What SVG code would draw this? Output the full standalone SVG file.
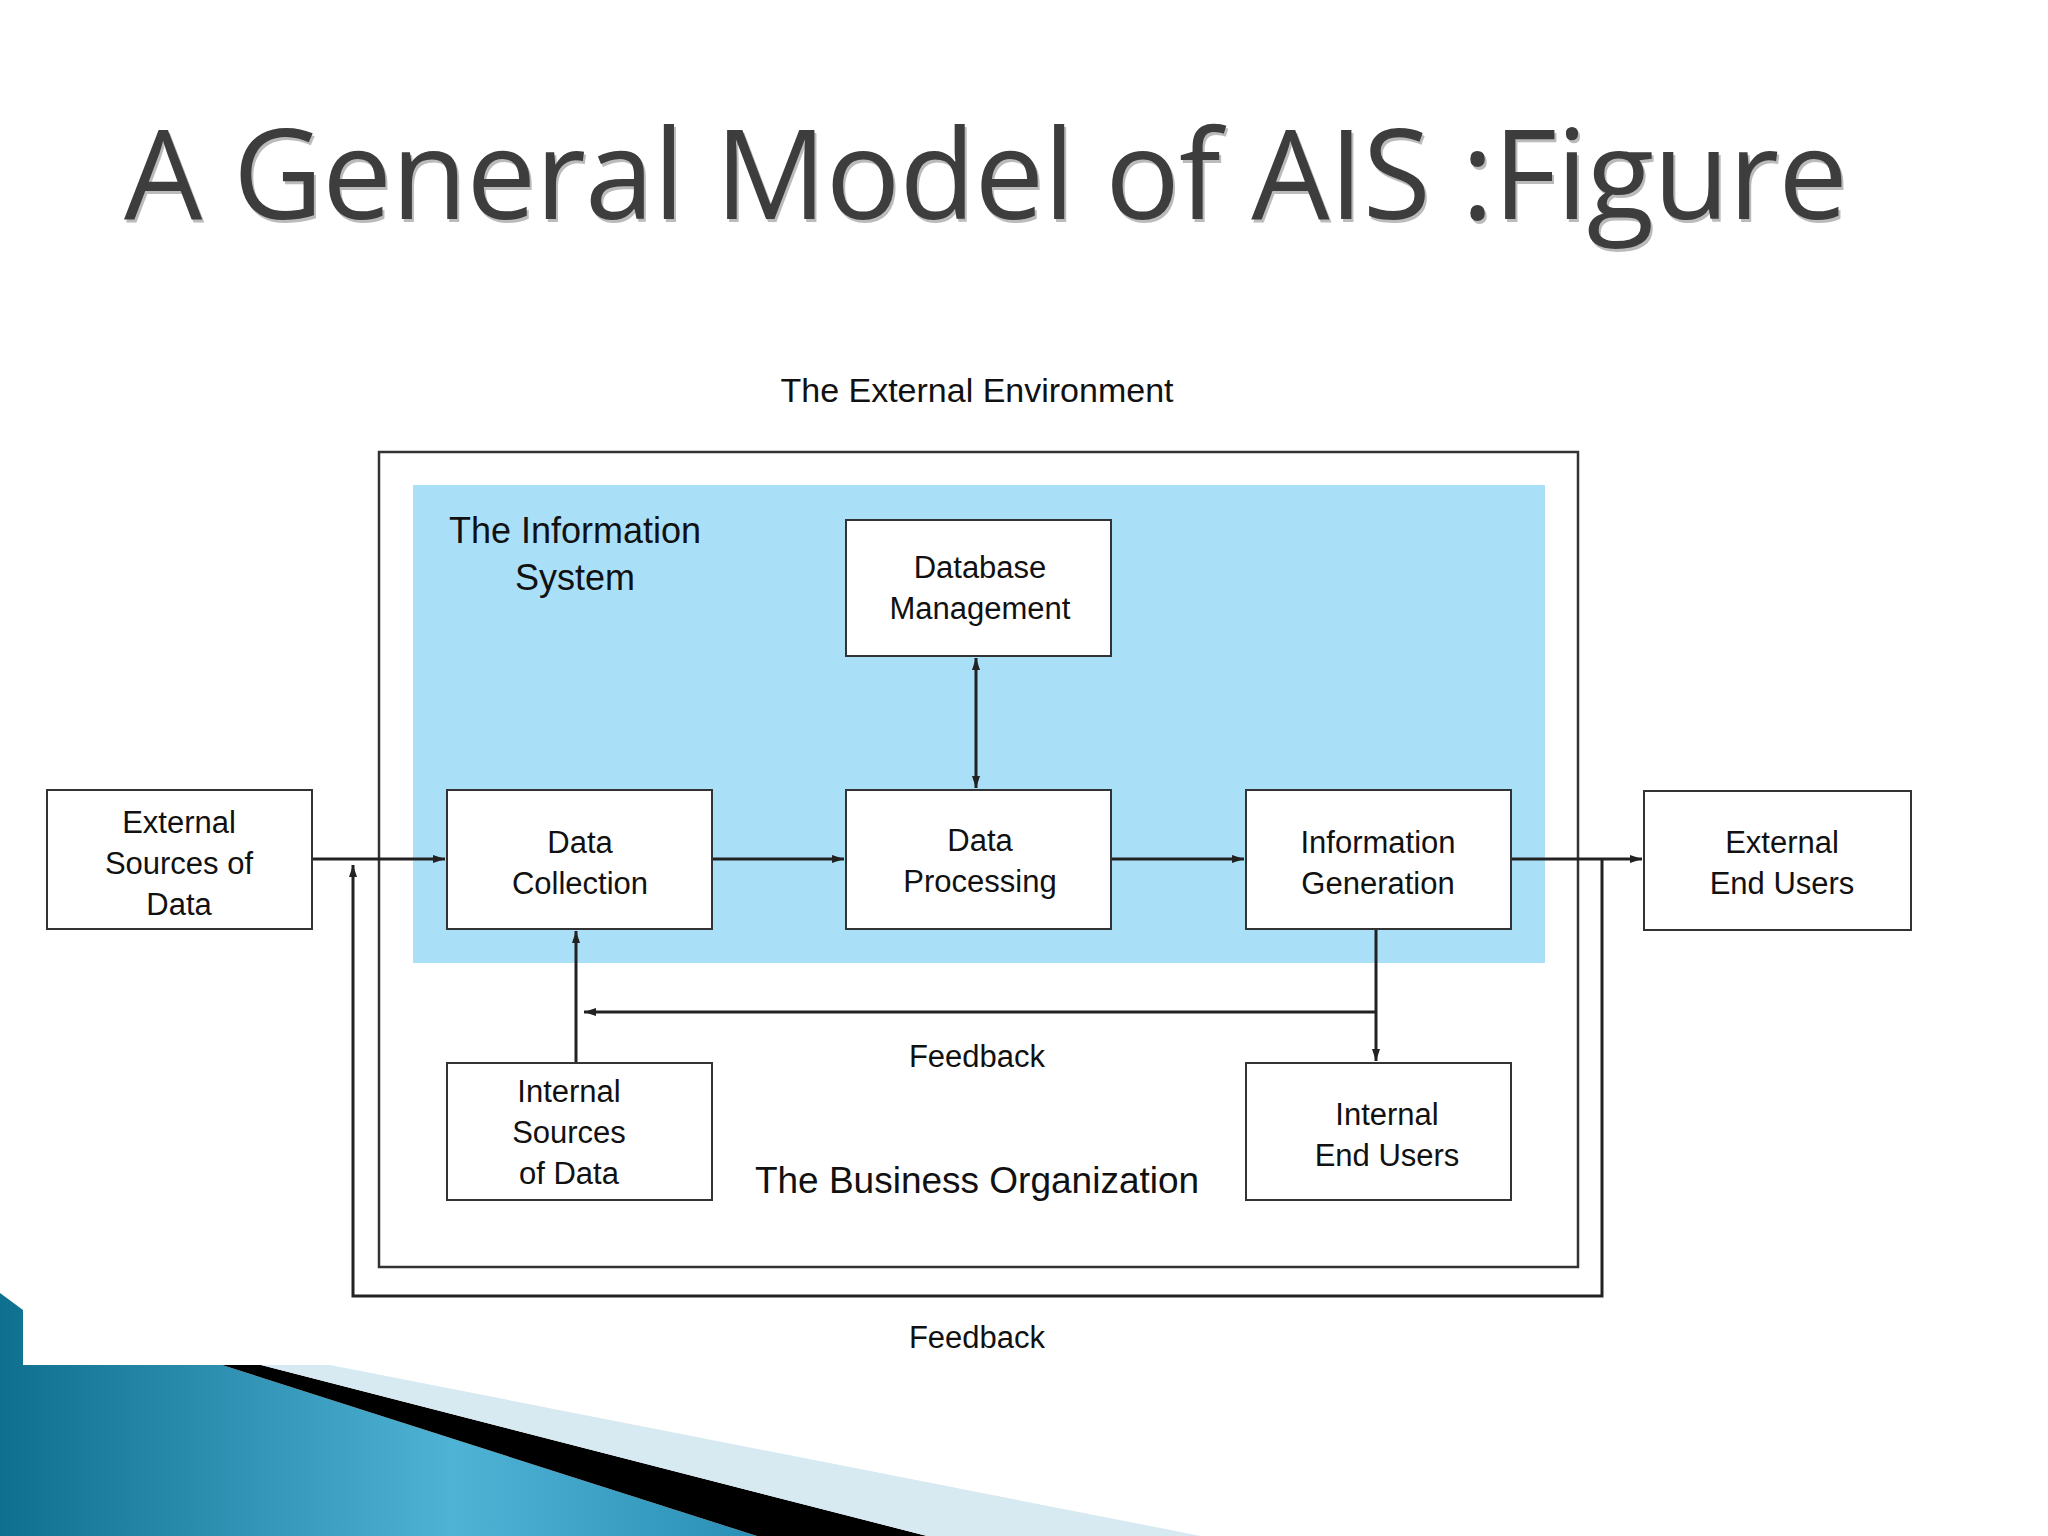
<svg xmlns="http://www.w3.org/2000/svg" width="2048" height="1536" viewBox="0 0 2048 1536">
<defs>
<marker id="ah" viewBox="0 0 12 8" refX="12" refY="4" markerWidth="12" markerHeight="8" markerUnits="userSpaceOnUse" orient="auto-start-reverse"><path d="M0,0 L12,4 L0,8 Z" fill="#222"/></marker>
<linearGradient id="tg" x1="0" y1="0" x2="1" y2="0"><stop offset="0" stop-color="#0f6f8f"/><stop offset="0.6" stop-color="#4fb3d6"/><stop offset="1" stop-color="#2a8fb5"/></linearGradient>
</defs>
<style>
.t{font-family:"Liberation Sans",Arial,sans-serif;fill:#111;text-anchor:middle}
.b{font-size:31px}
.box{fill:#fff;stroke:#333;stroke-width:2}
.ln{fill:none;stroke:#222;stroke-width:3}
</style>
<rect width="2048" height="1536" fill="#fff"/>
<g id="decor">
<polygon points="0,1293 23,1310 23,1365 222,1365 757,1536 0,1536" fill="url(#tg)"/>
<polygon points="222,1365 261,1365 927,1536 757,1536" fill="#000"/>
<polygon points="261,1365 330,1365 1201,1536 927,1536" fill="#d7e9f1"/>
</g>
<text x="126" y="222" font-family="'Open Sans','DejaVu Sans',sans-serif" font-size="124" fill="#bbb" textLength="1724">A General Model of AIS :Figure</text>
<text x="124" y="219" font-family="'Open Sans','DejaVu Sans',sans-serif" font-size="124" fill="#3d3d3d" textLength="1724">A General Model of AIS :Figure</text>
<text class="t" x="977" y="402" font-size="34">The External Environment</text>
<g id="org"><rect x="379" y="452" width="1199" height="815" fill="#fff" stroke="#333" stroke-width="2.5"/></g>
<g id="is"><rect x="413" y="485" width="1132" height="478" fill="#aadff8"/>
<text class="t" x="575" y="543" font-size="36">The Information</text><text class="t" x="575" y="590" font-size="36">System</text></g>
<text class="t" x="977" y="1193" font-size="37">The Business Organization</text>
<g id="connectors">
<line class="ln" x1="312" y1="859" x2="445" y2="859" marker-end="url(#ah)"/>
<line class="ln" x1="712" y1="859" x2="844" y2="859" marker-end="url(#ah)"/>
<line class="ln" x1="1111" y1="859" x2="1244" y2="859" marker-end="url(#ah)"/>
<line class="ln" x1="1511" y1="859" x2="1642" y2="859" marker-end="url(#ah)"/>
<line class="ln" x1="976" y1="658" x2="976" y2="788" marker-start="url(#ah)" marker-end="url(#ah)"/>
<line class="ln" x1="576" y1="1063" x2="576" y2="931" marker-end="url(#ah)"/>
<polyline class="ln" points="1376,929 1376,1061" marker-end="url(#ah)"/>
<polyline class="ln" points="1376,1012 584,1012" marker-end="url(#ah)"/>
<polyline class="ln" points="1602,859 1602,1296 353,1296 353,865" marker-end="url(#ah)"/>
</g>
<text class="t b" x="977" y="1067">Feedback</text>
<text class="t b" x="977" y="1348">Feedback</text>
<g id="db"><rect class="box" x="846" y="520" width="265" height="136"/><text class="t b" x="980" y="578">Database</text><text class="t b" x="980" y="619">Management</text></g>
<g id="dc"><rect class="box" x="447" y="790" width="265" height="139"/><text class="t b" x="580" y="853">Data</text><text class="t b" x="580" y="894">Collection</text></g>
<g id="dp"><rect class="box" x="846" y="790" width="265" height="139"/><text class="t b" x="980" y="851">Data</text><text class="t b" x="980" y="892">Processing</text></g>
<g id="ig"><rect class="box" x="1246" y="790" width="265" height="139"/><text class="t b" x="1378" y="853">Information</text><text class="t b" x="1378" y="894">Generation</text></g>
<g id="es"><rect class="box" x="47" y="790" width="265" height="139"/><text class="t b" x="179" y="833">External</text><text class="t b" x="179" y="874">Sources of</text><text class="t b" x="179" y="915">Data</text></g>
<g id="eu"><rect class="box" x="1644" y="791" width="267" height="139"/><text class="t b" x="1782" y="853">External</text><text class="t b" x="1782" y="894">End Users</text></g>
<g id="isrc"><rect class="box" x="447" y="1063" width="265" height="137"/><text class="t b" x="569" y="1102">Internal</text><text class="t b" x="569" y="1143">Sources</text><text class="t b" x="569" y="1184">of Data</text></g>
<g id="iu"><rect class="box" x="1246" y="1063" width="265" height="137"/><text class="t b" x="1387" y="1125">Internal</text><text class="t b" x="1387" y="1166">End Users</text></g>
</svg>
